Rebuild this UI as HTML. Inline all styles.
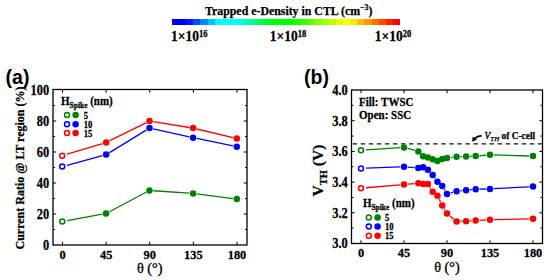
<!DOCTYPE html>
<html><head><meta charset="utf-8"><style>
html,body{margin:0;padding:0;background:#fff;width:550px;height:280px;overflow:hidden;}
svg{display:block;font-family:"Liberation Serif",serif;}
text[font-weight="bold"]{stroke:#000;stroke-width:0.25px;}
</style></head><body>
<svg width="550" height="280" viewBox="0 0 550 280">
<rect width="550" height="280" fill="#fff"/>
<rect x="172" y="19" width="7" height="6" fill="rgb(0, 0, 240)" shape-rendering="crispEdges"/>
<rect x="179" y="19" width="7" height="6" fill="rgb(0, 0, 250)" shape-rendering="crispEdges"/>
<rect x="186" y="19" width="7" height="6" fill="rgb(0, 25, 255)" shape-rendering="crispEdges"/>
<rect x="193" y="19" width="7" height="6" fill="rgb(0, 78, 255)" shape-rendering="crispEdges"/>
<rect x="200" y="19" width="8" height="6" fill="rgb(0, 137, 255)" shape-rendering="crispEdges"/>
<rect x="208" y="19" width="7" height="6" fill="rgb(0, 196, 255)" shape-rendering="crispEdges"/>
<rect x="215" y="19" width="7" height="6" fill="rgb(0, 251, 255)" shape-rendering="crispEdges"/>
<rect x="222" y="19" width="7" height="6" fill="rgb(0, 255, 255)" shape-rendering="crispEdges"/>
<rect x="229" y="19" width="7" height="6" fill="rgb(0, 255, 255)" shape-rendering="crispEdges"/>
<rect x="236" y="19" width="7" height="6" fill="rgb(0, 255, 237)" shape-rendering="crispEdges"/>
<rect x="243" y="19" width="7" height="6" fill="rgb(0, 255, 186)" shape-rendering="crispEdges"/>
<rect x="250" y="19" width="8" height="6" fill="rgb(0, 255, 131)" shape-rendering="crispEdges"/>
<rect x="258" y="19" width="7" height="6" fill="rgb(0, 255, 76)" shape-rendering="crispEdges"/>
<rect x="265" y="19" width="7" height="6" fill="rgb(0, 255, 26)" shape-rendering="crispEdges"/>
<rect x="272" y="19" width="7" height="6" fill="rgb(0, 255, 0)" shape-rendering="crispEdges"/>
<rect x="279" y="19" width="7" height="6" fill="rgb(0, 255, 0)" shape-rendering="crispEdges"/>
<rect x="286" y="19" width="7" height="6" fill="rgb(0, 255, 0)" shape-rendering="crispEdges"/>
<rect x="293" y="19" width="7" height="6" fill="rgb(22, 255, 0)" shape-rendering="crispEdges"/>
<rect x="300" y="19" width="7" height="6" fill="rgb(55, 255, 0)" shape-rendering="crispEdges"/>
<rect x="307" y="19" width="7" height="6" fill="rgb(89, 255, 0)" shape-rendering="crispEdges"/>
<rect x="314" y="19" width="8" height="6" fill="rgb(125, 255, 0)" shape-rendering="crispEdges"/>
<rect x="322" y="19" width="7" height="6" fill="rgb(161, 255, 0)" shape-rendering="crispEdges"/>
<rect x="329" y="19" width="7" height="6" fill="rgb(195, 255, 0)" shape-rendering="crispEdges"/>
<rect x="336" y="19" width="7" height="6" fill="rgb(229, 255, 0)" shape-rendering="crispEdges"/>
<rect x="343" y="19" width="7" height="6" fill="rgb(255, 254, 0)" shape-rendering="crispEdges"/>
<rect x="350" y="19" width="7" height="6" fill="rgb(255, 231, 0)" shape-rendering="crispEdges"/>
<rect x="357" y="19" width="7" height="6" fill="rgb(255, 193, 0)" shape-rendering="crispEdges"/>
<rect x="364" y="19" width="8" height="6" fill="rgb(255, 152, 0)" shape-rendering="crispEdges"/>
<rect x="372" y="19" width="7" height="6" fill="rgb(255, 111, 0)" shape-rendering="crispEdges"/>
<rect x="379" y="19" width="7" height="6" fill="rgb(255, 73, 0)" shape-rendering="crispEdges"/>
<rect x="386" y="19" width="7" height="6" fill="rgb(255, 35, 0)" shape-rendering="crispEdges"/>
<rect x="393" y="19" width="7" height="6" fill="rgb(255, 0, 0)" shape-rendering="crispEdges"/>
<text x="205" y="14.5" font-family="Liberation Serif" font-weight="bold" font-size="11.85">Trapped e-Density in CTL (cm<tspan dy="-4.5" font-size="7.8">−3</tspan><tspan dy="4.5">)</tspan></text>
<text transform="translate(171,40.8) scale(1,1.1)" font-family="Liberation Serif" font-weight="bold" font-size="13.5">1×10<tspan dy="-3.9" font-size="8.6">16</tspan></text>
<text transform="translate(269.7,40.8) scale(1,1.1)" font-family="Liberation Serif" font-weight="bold" font-size="13.5">1×10<tspan dy="-3.9" font-size="8.6">18</tspan></text>
<text transform="translate(374.7,40.8) scale(1,1.1)" font-family="Liberation Serif" font-weight="bold" font-size="13.5">1×10<tspan dy="-3.9" font-size="8.6">20</tspan></text>
<text x="5.5" y="83.8" font-family="Liberation Sans" font-weight="bold" font-size="19.6" style="stroke:none">(a)</text>
<text x="304" y="83.8" font-family="Liberation Sans" font-weight="bold" font-size="19.6" style="stroke:none">(b)</text>
<rect x="53" y="89.5" width="194" height="155.5" fill="none" stroke="#000" stroke-width="1.3"/>
<line x1="62.5" y1="89.5" x2="62.5" y2="92.7" stroke="#000" stroke-width="1"/>
<line x1="62.5" y1="245" x2="62.5" y2="241.8" stroke="#000" stroke-width="1"/>
<line x1="106.125" y1="89.5" x2="106.125" y2="92.7" stroke="#000" stroke-width="1"/>
<line x1="106.125" y1="245" x2="106.125" y2="241.8" stroke="#000" stroke-width="1"/>
<line x1="149.75" y1="89.5" x2="149.75" y2="92.7" stroke="#000" stroke-width="1"/>
<line x1="149.75" y1="245" x2="149.75" y2="241.8" stroke="#000" stroke-width="1"/>
<line x1="193.375" y1="89.5" x2="193.375" y2="92.7" stroke="#000" stroke-width="1"/>
<line x1="193.375" y1="245" x2="193.375" y2="241.8" stroke="#000" stroke-width="1"/>
<line x1="237.0" y1="89.5" x2="237.0" y2="92.7" stroke="#000" stroke-width="1"/>
<line x1="237.0" y1="245" x2="237.0" y2="241.8" stroke="#000" stroke-width="1"/>
<line x1="53" y1="214.0" x2="56.2" y2="214.0" stroke="#000" stroke-width="1"/>
<line x1="247" y1="214.0" x2="243.8" y2="214.0" stroke="#000" stroke-width="1"/>
<line x1="53" y1="183.0" x2="56.2" y2="183.0" stroke="#000" stroke-width="1"/>
<line x1="247" y1="183.0" x2="243.8" y2="183.0" stroke="#000" stroke-width="1"/>
<line x1="53" y1="152.0" x2="56.2" y2="152.0" stroke="#000" stroke-width="1"/>
<line x1="247" y1="152.0" x2="243.8" y2="152.0" stroke="#000" stroke-width="1"/>
<line x1="53" y1="121.0" x2="56.2" y2="121.0" stroke="#000" stroke-width="1"/>
<line x1="247" y1="121.0" x2="243.8" y2="121.0" stroke="#000" stroke-width="1"/>
<line x1="53" y1="229.5" x2="55" y2="229.5" stroke="#000" stroke-width="1"/>
<line x1="247" y1="229.5" x2="245" y2="229.5" stroke="#000" stroke-width="1"/>
<line x1="53" y1="198.5" x2="55" y2="198.5" stroke="#000" stroke-width="1"/>
<line x1="247" y1="198.5" x2="245" y2="198.5" stroke="#000" stroke-width="1"/>
<line x1="53" y1="167.5" x2="55" y2="167.5" stroke="#000" stroke-width="1"/>
<line x1="247" y1="167.5" x2="245" y2="167.5" stroke="#000" stroke-width="1"/>
<line x1="53" y1="136.5" x2="55" y2="136.5" stroke="#000" stroke-width="1"/>
<line x1="247" y1="136.5" x2="245" y2="136.5" stroke="#000" stroke-width="1"/>
<line x1="53" y1="105.5" x2="55" y2="105.5" stroke="#000" stroke-width="1"/>
<line x1="247" y1="105.5" x2="245" y2="105.5" stroke="#000" stroke-width="1"/>
<text transform="translate(49.20,249.80) scale(1,1.15)" font-family="Liberation Serif" font-weight="bold" font-size="12.4" text-anchor="end">0</text>
<text transform="translate(49.20,218.80) scale(1,1.15)" font-family="Liberation Serif" font-weight="bold" font-size="12.4" text-anchor="end">20</text>
<text transform="translate(49.20,187.80) scale(1,1.15)" font-family="Liberation Serif" font-weight="bold" font-size="12.4" text-anchor="end">40</text>
<text transform="translate(49.20,156.80) scale(1,1.15)" font-family="Liberation Serif" font-weight="bold" font-size="12.4" text-anchor="end">60</text>
<text transform="translate(49.20,125.80) scale(1,1.15)" font-family="Liberation Serif" font-weight="bold" font-size="12.4" text-anchor="end">80</text>
<text transform="translate(49.20,94.80) scale(1,1.15)" font-family="Liberation Serif" font-weight="bold" font-size="12.4" text-anchor="end">100</text>
<text transform="translate(62.50,258.60) scale(1,1.08)" font-family="Liberation Serif" font-weight="bold" font-size="12.4" text-anchor="middle">0</text>
<text transform="translate(106.12,258.60) scale(1,1.08)" font-family="Liberation Serif" font-weight="bold" font-size="12.4" text-anchor="middle">45</text>
<text transform="translate(149.75,258.60) scale(1,1.08)" font-family="Liberation Serif" font-weight="bold" font-size="12.4" text-anchor="middle">90</text>
<text transform="translate(193.38,258.60) scale(1,1.08)" font-family="Liberation Serif" font-weight="bold" font-size="12.4" text-anchor="middle">135</text>
<text transform="translate(237.00,258.60) scale(1,1.08)" font-family="Liberation Serif" font-weight="bold" font-size="12.4" text-anchor="middle">180</text>
<text x="149.75" y="273" font-family="Liberation Serif" font-size="14.3" stroke="#000" stroke-width="0.35" text-anchor="middle">θ (°)</text>
<text transform="translate(24,168) rotate(-90)" font-family="Liberation Serif" font-weight="bold" font-size="12" text-anchor="middle">Current Ratio @ LT region (%)</text>
<text transform="translate(61,105.2) scale(1,1.1)" font-family="Liberation Serif" font-weight="bold" font-size="11">H<tspan dy="2.4" font-size="7.5">Spike</tspan><tspan dy="-2.4"> (nm)</tspan></text>
<circle cx="67" cy="115.1" r="2.5" fill="#fff" stroke="#008000" stroke-width="1.5"/>
<circle cx="75.6" cy="115.1" r="3.25" fill="#008000"/>
<text transform="translate(83.8,118.5) scale(1,1.08)" font-family="Liberation Serif" font-weight="bold" font-size="8.6">5</text>
<circle cx="67" cy="124.2" r="2.5" fill="#fff" stroke="#0000ff" stroke-width="1.5"/>
<circle cx="75.6" cy="124.2" r="3.25" fill="#0000ff"/>
<text transform="translate(83.8,127.60000000000001) scale(1,1.08)" font-family="Liberation Serif" font-weight="bold" font-size="8.6">10</text>
<circle cx="67" cy="133.1" r="2.5" fill="#fff" stroke="#ff0000" stroke-width="1.5"/>
<circle cx="75.6" cy="133.1" r="3.25" fill="#ff0000"/>
<text transform="translate(83.8,136.5) scale(1,1.08)" font-family="Liberation Serif" font-weight="bold" font-size="8.6">15</text>
<line x1="67.27" y1="220.59" x2="102.21" y2="214.19" stroke="#008000" stroke-width="1.3"/>
<line x1="109.40" y1="211.70" x2="146.10" y2="192.30" stroke="#008000" stroke-width="1.3"/>
<line x1="153.34" y1="190.76" x2="189.26" y2="193.14" stroke="#008000" stroke-width="1.3"/>
<line x1="196.92" y1="193.90" x2="232.98" y2="198.60" stroke="#008000" stroke-width="1.3"/>
<circle cx="62.3" cy="221.5" r="2.5" fill="#fff" stroke="#008000" stroke-width="1.5"/>
<circle cx="106" cy="213.5" r="3.25" fill="#008000"/>
<circle cx="149.5" cy="190.5" r="3.25" fill="#008000"/>
<circle cx="193.1" cy="193.4" r="3.25" fill="#008000"/>
<circle cx="236.8" cy="199.1" r="3.25" fill="#008000"/>
<line x1="67.07" y1="165.27" x2="102.49" y2="155.61" stroke="#0000ff" stroke-width="1.3"/>
<line x1="109.48" y1="152.59" x2="146.22" y2="130.11" stroke="#0000ff" stroke-width="1.3"/>
<line x1="153.26" y1="128.93" x2="189.34" y2="136.87" stroke="#0000ff" stroke-width="1.3"/>
<line x1="196.87" y1="138.48" x2="233.03" y2="145.92" stroke="#0000ff" stroke-width="1.3"/>
<circle cx="62.2" cy="166.6" r="2.5" fill="#fff" stroke="#0000ff" stroke-width="1.5"/>
<circle cx="106.2" cy="154.6" r="3.25" fill="#0000ff"/>
<circle cx="149.5" cy="128.1" r="3.25" fill="#0000ff"/>
<circle cx="193.1" cy="137.7" r="3.25" fill="#0000ff"/>
<circle cx="236.8" cy="146.7" r="3.25" fill="#0000ff"/>
<line x1="67.03" y1="154.24" x2="102.51" y2="143.51" stroke="#ff0000" stroke-width="1.3"/>
<line x1="109.65" y1="140.70" x2="146.05" y2="122.80" stroke="#ff0000" stroke-width="1.3"/>
<line x1="153.30" y1="121.71" x2="189.30" y2="127.49" stroke="#ff0000" stroke-width="1.3"/>
<line x1="196.84" y1="129.00" x2="233.06" y2="137.70" stroke="#ff0000" stroke-width="1.3"/>
<circle cx="62.2" cy="155.7" r="2.5" fill="#fff" stroke="#ff0000" stroke-width="1.5"/>
<circle cx="106.2" cy="142.4" r="3.25" fill="#ff0000"/>
<circle cx="149.5" cy="121.1" r="3.25" fill="#ff0000"/>
<circle cx="193.1" cy="128.1" r="3.25" fill="#ff0000"/>
<circle cx="236.8" cy="138.6" r="3.25" fill="#ff0000"/>
<rect x="351.5" y="90" width="191.0" height="153.5" fill="none" stroke="#000" stroke-width="1.3"/>
<line x1="361.0" y1="90" x2="361.0" y2="93.2" stroke="#000" stroke-width="1"/>
<line x1="361.0" y1="243.5" x2="361.0" y2="240.3" stroke="#000" stroke-width="1"/>
<line x1="404.0" y1="90" x2="404.0" y2="93.2" stroke="#000" stroke-width="1"/>
<line x1="404.0" y1="243.5" x2="404.0" y2="240.3" stroke="#000" stroke-width="1"/>
<line x1="447.0" y1="90" x2="447.0" y2="93.2" stroke="#000" stroke-width="1"/>
<line x1="447.0" y1="243.5" x2="447.0" y2="240.3" stroke="#000" stroke-width="1"/>
<line x1="490.0" y1="90" x2="490.0" y2="93.2" stroke="#000" stroke-width="1"/>
<line x1="490.0" y1="243.5" x2="490.0" y2="240.3" stroke="#000" stroke-width="1"/>
<line x1="533.0" y1="90" x2="533.0" y2="93.2" stroke="#000" stroke-width="1"/>
<line x1="533.0" y1="243.5" x2="533.0" y2="240.3" stroke="#000" stroke-width="1"/>
<line x1="351.5" y1="212.79999999999995" x2="354.7" y2="212.79999999999995" stroke="#000" stroke-width="1"/>
<line x1="542.5" y1="212.79999999999995" x2="539.3" y2="212.79999999999995" stroke="#000" stroke-width="1"/>
<line x1="351.5" y1="182.10000000000002" x2="354.7" y2="182.10000000000002" stroke="#000" stroke-width="1"/>
<line x1="542.5" y1="182.10000000000002" x2="539.3" y2="182.10000000000002" stroke="#000" stroke-width="1"/>
<line x1="351.5" y1="151.39999999999998" x2="354.7" y2="151.39999999999998" stroke="#000" stroke-width="1"/>
<line x1="542.5" y1="151.39999999999998" x2="539.3" y2="151.39999999999998" stroke="#000" stroke-width="1"/>
<line x1="351.5" y1="120.70000000000003" x2="354.7" y2="120.70000000000003" stroke="#000" stroke-width="1"/>
<line x1="542.5" y1="120.70000000000003" x2="539.3" y2="120.70000000000003" stroke="#000" stroke-width="1"/>
<line x1="351.5" y1="228.14999999999998" x2="353.5" y2="228.14999999999998" stroke="#000" stroke-width="1"/>
<line x1="542.5" y1="228.14999999999998" x2="540.5" y2="228.14999999999998" stroke="#000" stroke-width="1"/>
<line x1="351.5" y1="197.45000000000005" x2="353.5" y2="197.45000000000005" stroke="#000" stroke-width="1"/>
<line x1="542.5" y1="197.45000000000005" x2="540.5" y2="197.45000000000005" stroke="#000" stroke-width="1"/>
<line x1="351.5" y1="166.75" x2="353.5" y2="166.75" stroke="#000" stroke-width="1"/>
<line x1="542.5" y1="166.75" x2="540.5" y2="166.75" stroke="#000" stroke-width="1"/>
<line x1="351.5" y1="136.04999999999998" x2="353.5" y2="136.04999999999998" stroke="#000" stroke-width="1"/>
<line x1="542.5" y1="136.04999999999998" x2="540.5" y2="136.04999999999998" stroke="#000" stroke-width="1"/>
<line x1="351.5" y1="105.35000000000001" x2="353.5" y2="105.35000000000001" stroke="#000" stroke-width="1"/>
<line x1="542.5" y1="105.35000000000001" x2="540.5" y2="105.35000000000001" stroke="#000" stroke-width="1"/>
<text transform="translate(347.70,248.30) scale(1,1.15)" font-family="Liberation Serif" font-weight="bold" font-size="12.4" text-anchor="end">3.0</text>
<text transform="translate(347.70,217.60) scale(1,1.15)" font-family="Liberation Serif" font-weight="bold" font-size="12.4" text-anchor="end">3.2</text>
<text transform="translate(347.70,186.90) scale(1,1.15)" font-family="Liberation Serif" font-weight="bold" font-size="12.4" text-anchor="end">3.4</text>
<text transform="translate(347.70,156.20) scale(1,1.15)" font-family="Liberation Serif" font-weight="bold" font-size="12.4" text-anchor="end">3.6</text>
<text transform="translate(347.70,125.50) scale(1,1.15)" font-family="Liberation Serif" font-weight="bold" font-size="12.4" text-anchor="end">3.8</text>
<text transform="translate(347.70,94.80) scale(1,1.15)" font-family="Liberation Serif" font-weight="bold" font-size="12.4" text-anchor="end">4.0</text>
<text transform="translate(361.00,257.10) scale(1,1.08)" font-family="Liberation Serif" font-weight="bold" font-size="12.4" text-anchor="middle">0</text>
<text transform="translate(404.00,257.10) scale(1,1.08)" font-family="Liberation Serif" font-weight="bold" font-size="12.4" text-anchor="middle">45</text>
<text transform="translate(447.00,257.10) scale(1,1.08)" font-family="Liberation Serif" font-weight="bold" font-size="12.4" text-anchor="middle">90</text>
<text transform="translate(490.00,257.10) scale(1,1.08)" font-family="Liberation Serif" font-weight="bold" font-size="12.4" text-anchor="middle">135</text>
<text transform="translate(533.00,257.10) scale(1,1.08)" font-family="Liberation Serif" font-weight="bold" font-size="12.4" text-anchor="middle">180</text>
<text x="447.0" y="271.5" font-family="Liberation Serif" font-size="14.3" stroke="#000" stroke-width="0.35" text-anchor="middle">θ (°)</text>
<text transform="translate(323,170.5) rotate(-90)" font-family="Liberation Serif" font-weight="bold" font-size="15.5" text-anchor="middle">V<tspan dy="3.5" font-size="10.5">TH</tspan><tspan dy="-3.5"> (V)</tspan></text>
<text transform="translate(359,105.8) scale(1,1.13)" font-family="Liberation Serif" font-weight="bold" font-size="11">Fill: TWSC</text>
<text transform="translate(359,118.6) scale(1,1.13)" font-family="Liberation Serif" font-weight="bold" font-size="11">Open: SSC</text>
<line x1="352.7" y1="143.9" x2="541.8" y2="143.9" stroke="#111" stroke-width="1.4" stroke-dasharray="4.4 3.65"/>
<path d="M481,135.8 C478.6,136 476.6,136.6 474.8,138.3" fill="none" stroke="#000" stroke-width="1.7" stroke-linecap="round"/>
<path d="M472.2,141.8 L472.6,136.8 L477,139.4 Z" fill="#000"/>
<text x="484.5" y="138.6" font-family="Liberation Serif" font-weight="bold" font-size="9.4"><tspan font-style="italic" font-weight="normal" stroke-width="0.35">V</tspan><tspan dy="2.5" font-size="7" font-style="italic" font-weight="normal" stroke-width="0.25">TH</tspan><tspan dy="-2.5"> of C-cell</tspan></text>
<text transform="translate(362.9,207.3) scale(1,1.1)" font-family="Liberation Serif" font-weight="bold" font-size="11">H<tspan dy="2.4" font-size="7.5">Spike</tspan><tspan dy="-2.4"> (nm)</tspan></text>
<circle cx="368.8" cy="217.5" r="2.5" fill="#fff" stroke="#008000" stroke-width="1.5"/>
<circle cx="377.6" cy="217.5" r="3.25" fill="#008000"/>
<text transform="translate(384.9,220.9) scale(1,1.08)" font-family="Liberation Serif" font-weight="bold" font-size="8.6">5</text>
<circle cx="368.8" cy="226.6" r="2.5" fill="#fff" stroke="#0000ff" stroke-width="1.5"/>
<circle cx="377.6" cy="226.6" r="3.25" fill="#0000ff"/>
<text transform="translate(384.9,230.0) scale(1,1.08)" font-family="Liberation Serif" font-weight="bold" font-size="8.6">10</text>
<circle cx="368.8" cy="235.8" r="2.5" fill="#fff" stroke="#ff0000" stroke-width="1.5"/>
<circle cx="377.6" cy="235.8" r="3.25" fill="#ff0000"/>
<text transform="translate(384.9,239.20000000000002) scale(1,1.08)" font-family="Liberation Serif" font-weight="bold" font-size="8.6">15</text>
<line x1="366.04" y1="149.96" x2="400.16" y2="147.66" stroke="#008000" stroke-width="1.3"/>
<line x1="407.70" y1="148.46" x2="414.63" y2="150.44" stroke="#008000" stroke-width="1.3"/>
<line x1="450.82" y1="157.52" x2="452.74" y2="157.28" stroke="#008000" stroke-width="1.3"/>
<line x1="460.40" y1="156.68" x2="462.26" y2="156.62" stroke="#008000" stroke-width="1.3"/>
<line x1="469.96" y1="156.34" x2="471.82" y2="156.26" stroke="#008000" stroke-width="1.3"/>
<line x1="479.50" y1="155.75" x2="486.17" y2="155.15" stroke="#008000" stroke-width="1.3"/>
<line x1="493.85" y1="154.92" x2="529.15" y2="155.98" stroke="#008000" stroke-width="1.3"/>
<circle cx="361.0" cy="150.3" r="2.5" fill="#fff" stroke="#008000" stroke-width="1.5"/>
<circle cx="404.0" cy="147.4" r="3.25" fill="#008000"/>
<circle cx="418.3333333333333" cy="151.5" r="3.25" fill="#008000"/>
<circle cx="423.1111111111111" cy="156.3" r="3.25" fill="#008000"/>
<circle cx="427.8888888888889" cy="157.5" r="3.25" fill="#008000"/>
<circle cx="432.6666666666667" cy="159.3" r="3.25" fill="#008000"/>
<circle cx="437.44444444444446" cy="160.9" r="3.25" fill="#008000"/>
<circle cx="442.22222222222223" cy="159" r="3.25" fill="#008000"/>
<circle cx="447.0" cy="158" r="3.25" fill="#008000"/>
<circle cx="456.55555555555554" cy="156.8" r="3.25" fill="#008000"/>
<circle cx="466.1111111111111" cy="156.5" r="3.25" fill="#008000"/>
<circle cx="475.6666666666667" cy="156.1" r="3.25" fill="#008000"/>
<circle cx="490.0" cy="154.8" r="3.25" fill="#008000"/>
<circle cx="533.0" cy="156.1" r="3.25" fill="#008000"/>
<line x1="366.05" y1="168.21" x2="400.15" y2="166.94" stroke="#0000ff" stroke-width="1.3"/>
<line x1="407.84" y1="167.09" x2="414.49" y2="167.61" stroke="#0000ff" stroke-width="1.3"/>
<line x1="434.90" y1="178.13" x2="435.21" y2="178.57" stroke="#0000ff" stroke-width="1.3"/>
<line x1="444.23" y1="189.38" x2="444.99" y2="190.62" stroke="#0000ff" stroke-width="1.3"/>
<line x1="450.71" y1="192.89" x2="452.84" y2="192.31" stroke="#0000ff" stroke-width="1.3"/>
<line x1="460.38" y1="190.90" x2="462.28" y2="190.70" stroke="#0000ff" stroke-width="1.3"/>
<line x1="469.94" y1="189.86" x2="471.84" y2="189.64" stroke="#0000ff" stroke-width="1.3"/>
<line x1="479.52" y1="189.12" x2="486.15" y2="188.98" stroke="#0000ff" stroke-width="1.3"/>
<line x1="493.84" y1="188.69" x2="529.16" y2="186.81" stroke="#0000ff" stroke-width="1.3"/>
<circle cx="361.0" cy="168.4" r="2.5" fill="#fff" stroke="#0000ff" stroke-width="1.5"/>
<circle cx="404.0" cy="166.8" r="3.25" fill="#0000ff"/>
<circle cx="418.3333333333333" cy="167.9" r="3.25" fill="#0000ff"/>
<circle cx="423.1111111111111" cy="167.2" r="3.25" fill="#0000ff"/>
<circle cx="427.8888888888889" cy="169.8" r="3.25" fill="#0000ff"/>
<circle cx="432.6666666666667" cy="175" r="3.25" fill="#0000ff"/>
<circle cx="437.44444444444446" cy="181.7" r="3.25" fill="#0000ff"/>
<circle cx="442.22222222222223" cy="186.1" r="3.25" fill="#0000ff"/>
<circle cx="447.0" cy="193.9" r="3.25" fill="#0000ff"/>
<circle cx="456.55555555555554" cy="191.3" r="3.25" fill="#0000ff"/>
<circle cx="466.1111111111111" cy="190.3" r="3.25" fill="#0000ff"/>
<circle cx="475.6666666666667" cy="189.2" r="3.25" fill="#0000ff"/>
<circle cx="490.0" cy="188.9" r="3.25" fill="#0000ff"/>
<circle cx="533.0" cy="186.6" r="3.25" fill="#0000ff"/>
<line x1="366.03" y1="187.77" x2="400.16" y2="184.83" stroke="#ff0000" stroke-width="1.3"/>
<line x1="407.84" y1="184.18" x2="414.50" y2="183.62" stroke="#ff0000" stroke-width="1.3"/>
<line x1="429.90" y1="187.28" x2="430.66" y2="188.52" stroke="#ff0000" stroke-width="1.3"/>
<line x1="439.13" y1="199.16" x2="440.54" y2="202.04" stroke="#ff0000" stroke-width="1.3"/>
<line x1="444.20" y1="208.81" x2="445.03" y2="210.19" stroke="#ff0000" stroke-width="1.3"/>
<line x1="449.95" y1="215.97" x2="453.60" y2="219.03" stroke="#ff0000" stroke-width="1.3"/>
<line x1="460.40" y1="221.38" x2="462.26" y2="221.32" stroke="#ff0000" stroke-width="1.3"/>
<line x1="469.95" y1="220.92" x2="471.83" y2="220.78" stroke="#ff0000" stroke-width="1.3"/>
<line x1="479.51" y1="220.29" x2="486.16" y2="219.91" stroke="#ff0000" stroke-width="1.3"/>
<line x1="493.85" y1="219.62" x2="529.15" y2="218.88" stroke="#ff0000" stroke-width="1.3"/>
<circle cx="361.0" cy="188.2" r="2.5" fill="#fff" stroke="#ff0000" stroke-width="1.5"/>
<circle cx="404.0" cy="184.5" r="3.25" fill="#ff0000"/>
<circle cx="418.3333333333333" cy="183.3" r="3.25" fill="#ff0000"/>
<circle cx="423.1111111111111" cy="184" r="3.25" fill="#ff0000"/>
<circle cx="427.8888888888889" cy="184" r="3.25" fill="#ff0000"/>
<circle cx="432.6666666666667" cy="191.8" r="3.25" fill="#ff0000"/>
<circle cx="437.44444444444446" cy="195.7" r="3.25" fill="#ff0000"/>
<circle cx="442.22222222222223" cy="205.5" r="3.25" fill="#ff0000"/>
<circle cx="447.0" cy="213.5" r="3.25" fill="#ff0000"/>
<circle cx="456.55555555555554" cy="221.5" r="3.25" fill="#ff0000"/>
<circle cx="466.1111111111111" cy="221.2" r="3.25" fill="#ff0000"/>
<circle cx="475.6666666666667" cy="220.5" r="3.25" fill="#ff0000"/>
<circle cx="490.0" cy="219.7" r="3.25" fill="#ff0000"/>
<circle cx="533.0" cy="218.8" r="3.25" fill="#ff0000"/>
</svg>
</body></html>
